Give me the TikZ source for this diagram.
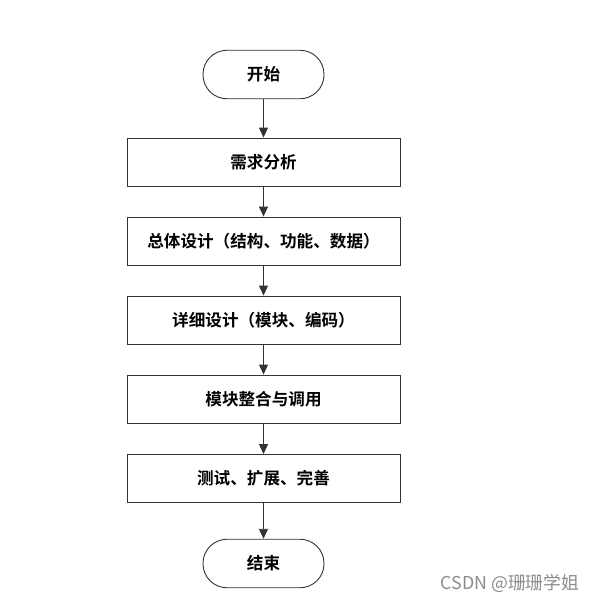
\documentclass[tikz,border=0pt]{standalone}
\usepackage{fontspec}
\setmainfont{Liberation Serif}
\newfontfamily\cjk{Noto Sans CJK SC Bold}
\newfontfamily\cjkmark{Noto Sans CJK SC}
\usetikzlibrary{arrows.meta}

\def\Mx{263.5}

\begin{document}
\begin{tikzpicture}[x=1pt, y=-1pt, line width=0.9pt, color=black!80,
    every node/.style={font=\cjk\fontsize{16.6}{19}\selectfont, text=black},
    step box/.style={draw, rectangle, minimum width=273pt, minimum height=48pt, inner sep=0pt},
    term box/.style={draw, rounded corners=24pt, minimum width=121pt, minimum height=48.5pt, inner sep=0pt},
    flow/.style={-{Triangle[length=10pt, width=9pt]}}]
    \useasboundingbox (0,0) rectangle (597,600);
    \node[term box] (start) at (\Mx,74.5) {开始};
    \node[step box] (need) at (\Mx,162) {需求分析};
    \node[step box] (overall) at (\Mx,241) {总体设计（结构、功能、数据）};
    \node[step box] (detail) at (\Mx,320) {详细设计（模块、编码）};
    \node[step box] (merge) at (\Mx,399) {模块整合与调用};
    \node[step box] (test) at (\Mx,478.5) {测试、扩展、完善};
    \node[term box] (finish) at (\Mx,563.5) {结束};

    \draw[flow] (start) -- (need);
    \draw[flow] (need) -- (overall);
    \draw[flow] (overall) -- (detail);
    \draw[flow] (detail) -- (merge);
    \draw[flow] (merge) -- (test);
    \draw[flow] (test) -- (finish);

    \node[font=\cjkmark\fontsize{17.8}{20}\selectfont, text=black!45, anchor=east] (mark) at (583,583) {CSDN @珊珊学姐};
\end{tikzpicture}
\end{document}
